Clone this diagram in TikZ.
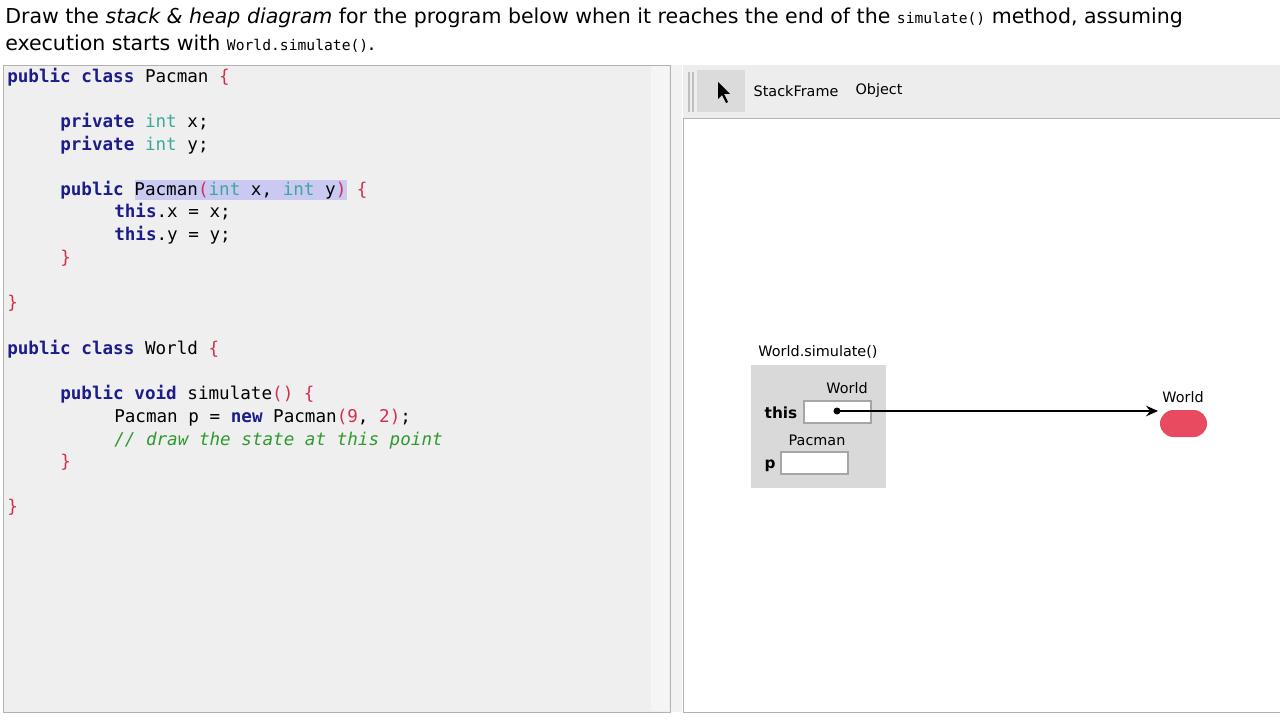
\documentclass[tikz,border=0pt]{standalone}
\usepackage{fontspec}
\setmainfont{DejaVu Sans}
\setmonofont{DejaVu Sans Mono}
\usetikzlibrary{arrows.meta}
\definecolor{kw}{HTML}{1C1C8A}
\definecolor{ty}{HTML}{3BA89B}
\definecolor{br}{HTML}{D0304E}
\definecolor{cm}{HTML}{2E9A2E}
\definecolor{hl}{HTML}{C9C9F2}
\definecolor{panel}{HTML}{EFEFEF}
\definecolor{frame}{HTML}{D9D9D9}
\definecolor{obj}{HTML}{E84A5F}
\newcommand{\K}[1]{\textcolor{kw}{\bfseries #1}}
\newcommand{\T}[1]{\textcolor{ty}{#1}}
\newcommand{\B}[1]{\textcolor{br}{#1}}
\begin{document}
\begin{tikzpicture}[x=0.75pt,y=-0.75pt,
  code/.style={anchor=base west,inner sep=0,font=\fontsize{13.2}{15}\ttfamily},
  ui/.style={inner sep=0,font=\fontsize{10.8}{12}\selectfont},
  slot/.style={draw=gray!70,fill=white,line width=0.8pt}]
\useasboundingbox (0,0) rectangle (1280,720);
\fill[white] (0,0) rectangle (1280,720);
% title
\node[anchor=base west,inner sep=0,font=\fontsize{15.4}{18}\selectfont] (t1) at (5,24) {Draw the \textit{stack \& heap diagram} for the program below when it reaches the end of the {\ttfamily\fontsize{11}{12}\selectfont simulate()} method, assuming};
\node[anchor=base west,inner sep=0,font=\fontsize{15.4}{18}\selectfont] (t2) at (5,51) {execution starts with {\ttfamily\fontsize{11}{12}\selectfont World.simulate()}.};
% code panel
\fill[panel] (3,65) rectangle (670,712);
\fill[gray!8] (651,66) rectangle (669,711);
\draw[gray!60] (3,65) rectangle (670,712);
\fill[hl] (135,180) rectangle (347,200);
\node[code] (c1) at (7,83) {\K{public class} Pacman \B{\{}};
\node[code] (c3) at (60,128) {\K{private} \T{int} x;};
\node[code] (c4) at (60,151) {\K{private} \T{int} y;};
\node[code] (c6) at (60,196) {\K{public} Pacman\B{(}\T{int} x, \T{int} y\B{)} \B{\{}};
\node[code] (c7) at (114,218) {\K{this}.x = x;};
\node[code] (c8) at (114,241) {\K{this}.y = y;};
\node[code] (c9) at (60,263) {\B{\}}};
\node[code] (c11) at (7,308) {\B{\}}};
\node[code] (c13) at (7,354) {\K{public class} World \B{\{}};
\node[code] (c15) at (60,399) {\K{public void} simulate\B{()} \B{\{}};
\node[code] (c16) at (114,422) {Pacman p = \K{new} Pacman\B{(9}, \B{2)};};
\node[code] (c17) at (114,445) {\textcolor{cm}{\itshape // draw the state at this point}};
\node[code] (c18) at (60,467) {\B{\}}};
\node[code] (c20) at (7,512) {\B{\}}};
% divider
\fill[gray!10] (671,65) rectangle (682,712);
% toolbar
\fill[gray!14] (683,65) rectangle (1280,118);
\draw[gray!50,line width=1pt] (689,72) -- (689,112);
\draw[gray!50,line width=1pt] (693,72) -- (693,112);
\fill[gray!28] (697,70) rectangle (745,112);
\fill[black] (718,82) -- (718,99) -- (722,95) -- (726,103) -- (728,102) -- (724,94) -- (730,94) -- cycle;
\node[ui] (sf) at (796,91) {StackFrame};
\node[ui] (ob) at (879,91) {Object};
% canvas
\fill[white] (683,118) rectangle (1280,712);
\draw[gray!60] (683,118) -- (1280,118);
\draw[gray!60] (683,118) -- (683,712) -- (1280,712);
% stack frame
\node[ui] (fl) at (818,352) {World.simulate()};
\fill[frame] (751,365) rectangle (886,488);
\node[ui] (wt) at (847,388) {World};
\node[ui,font=\fontsize{11.5}{12}\bfseries] (thisl) at (781,413) {this};
\draw[slot] (804,401) rectangle (871,423);
\node[ui] (pt) at (817,440) {Pacman};
\node[ui,font=\fontsize{11.5}{12}\bfseries] (pl) at (770,466) {p};
\draw[slot] (781,452) rectangle (848,474);
% heap
\node[ui] (hw) at (1183,397) {World};
\node[fill=obj,rounded corners=13.5*0.75pt,minimum width=47*0.75pt,minimum height=27*0.75pt,inner sep=0] (wobj) at (1183.5,423.5) {};
\fill (837,411) circle (3.5*0.75pt) coordinate (dot);
\coordinate (tip) at (1158,411);
\draw[line width=0.9pt,-{Stealth[length=9pt,width=8pt,inset=3pt]}] (dot) -- (tip);
\end{tikzpicture}
\end{document}
